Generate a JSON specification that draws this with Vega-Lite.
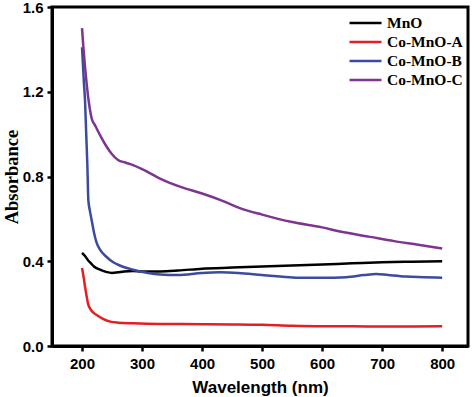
{
  "$schema": "https://vega.github.io/schema/vega-lite/v6.json",
  "width": 416,
  "height": 339,
  "autosize": "none",
  "padding": {"left": 52, "top": 7, "right": 6, "bottom": 51},
  "background": "white",
  "config": {
    "view": {"stroke": "black", "strokeWidth": 3},
    "axis": {"grid": false}
  },
  "data": {"values": [
    {"s":"MnO","w":200,"a":0.44},{"s":"MnO","w":205,"a":0.425},{"s":"MnO","w":210,"a":0.405},{"s":"MnO","w":215,"a":0.39},{"s":"MnO","w":220,"a":0.375},{"s":"MnO","w":230,"a":0.36},{"s":"MnO","w":240,"a":0.35},{"s":"MnO","w":250,"a":0.345},{"s":"MnO","w":260,"a":0.348},{"s":"MnO","w":270,"a":0.352},{"s":"MnO","w":285,"a":0.354},{"s":"MnO","w":300,"a":0.352},{"s":"MnO","w":330,"a":0.352},{"s":"MnO","w":360,"a":0.356},{"s":"MnO","w":400,"a":0.365},{"s":"MnO","w":450,"a":0.37},{"s":"MnO","w":500,"a":0.375},{"s":"MnO","w":550,"a":0.38},{"s":"MnO","w":600,"a":0.385},{"s":"MnO","w":650,"a":0.39},{"s":"MnO","w":700,"a":0.395},{"s":"MnO","w":750,"a":0.398},{"s":"MnO","w":800,"a":0.40},
    {"s":"Co-MnO-A","w":200,"a":0.368},{"s":"Co-MnO-A","w":203,"a":0.32},{"s":"Co-MnO-A","w":205,"a":0.28},{"s":"Co-MnO-A","w":208,"a":0.23},{"s":"Co-MnO-A","w":210,"a":0.2},{"s":"Co-MnO-A","w":215,"a":0.17},{"s":"Co-MnO-A","w":220,"a":0.155},{"s":"Co-MnO-A","w":225,"a":0.145},{"s":"Co-MnO-A","w":235,"a":0.128},{"s":"Co-MnO-A","w":247,"a":0.115},{"s":"Co-MnO-A","w":260,"a":0.11},{"s":"Co-MnO-A","w":285,"a":0.107},{"s":"Co-MnO-A","w":330,"a":0.104},{"s":"Co-MnO-A","w":400,"a":0.103},{"s":"Co-MnO-A","w":450,"a":0.102},{"s":"Co-MnO-A","w":500,"a":0.1},{"s":"Co-MnO-A","w":550,"a":0.095},{"s":"Co-MnO-A","w":600,"a":0.093},{"s":"Co-MnO-A","w":650,"a":0.093},{"s":"Co-MnO-A","w":700,"a":0.092},{"s":"Co-MnO-A","w":750,"a":0.092},{"s":"Co-MnO-A","w":800,"a":0.093},
    {"s":"Co-MnO-B","w":200,"a":1.41},{"s":"Co-MnO-B","w":203,"a":1.25},{"s":"Co-MnO-B","w":205,"a":1.16},{"s":"Co-MnO-B","w":207,"a":1.0},{"s":"Co-MnO-B","w":209,"a":0.845},{"s":"Co-MnO-B","w":210.5,"a":0.69},{"s":"Co-MnO-B","w":213,"a":0.64},{"s":"Co-MnO-B","w":216,"a":0.595},{"s":"Co-MnO-B","w":220,"a":0.535},{"s":"Co-MnO-B","w":224,"a":0.49},{"s":"Co-MnO-B","w":230,"a":0.455},{"s":"Co-MnO-B","w":241,"a":0.42},{"s":"Co-MnO-B","w":252,"a":0.395},{"s":"Co-MnO-B","w":263,"a":0.38},{"s":"Co-MnO-B","w":285,"a":0.36},{"s":"Co-MnO-B","w":310,"a":0.345},{"s":"Co-MnO-B","w":330,"a":0.338},{"s":"Co-MnO-B","w":360,"a":0.335},{"s":"Co-MnO-B","w":400,"a":0.345},{"s":"Co-MnO-B","w":430,"a":0.348},{"s":"Co-MnO-B","w":460,"a":0.345},{"s":"Co-MnO-B","w":500,"a":0.335},{"s":"Co-MnO-B","w":530,"a":0.328},{"s":"Co-MnO-B","w":560,"a":0.322},{"s":"Co-MnO-B","w":600,"a":0.322},{"s":"Co-MnO-B","w":640,"a":0.325},{"s":"Co-MnO-B","w":670,"a":0.335},{"s":"Co-MnO-B","w":690,"a":0.34},{"s":"Co-MnO-B","w":710,"a":0.335},{"s":"Co-MnO-B","w":740,"a":0.328},{"s":"Co-MnO-B","w":770,"a":0.325},{"s":"Co-MnO-B","w":800,"a":0.322},
    {"s":"Co-MnO-C","w":200,"a":1.50},{"s":"Co-MnO-C","w":202,"a":1.42},{"s":"Co-MnO-C","w":205,"a":1.317},{"s":"Co-MnO-C","w":208,"a":1.23},{"s":"Co-MnO-C","w":210,"a":1.18},{"s":"Co-MnO-C","w":213,"a":1.12},{"s":"Co-MnO-C","w":216,"a":1.075},{"s":"Co-MnO-C","w":222,"a":1.04},{"s":"Co-MnO-C","w":230,"a":0.995},{"s":"Co-MnO-C","w":240,"a":0.945},{"s":"Co-MnO-C","w":250,"a":0.905},{"s":"Co-MnO-C","w":260,"a":0.878},{"s":"Co-MnO-C","w":272,"a":0.866},{"s":"Co-MnO-C","w":285,"a":0.854},{"s":"Co-MnO-C","w":300,"a":0.835},{"s":"Co-MnO-C","w":313,"a":0.816},{"s":"Co-MnO-C","w":330,"a":0.79},{"s":"Co-MnO-C","w":363,"a":0.752},{"s":"Co-MnO-C","w":400,"a":0.72},{"s":"Co-MnO-C","w":430,"a":0.69},{"s":"Co-MnO-C","w":463,"a":0.651},{"s":"Co-MnO-C","w":500,"a":0.62},{"s":"Co-MnO-C","w":550,"a":0.585},{"s":"Co-MnO-C","w":600,"a":0.56},{"s":"Co-MnO-C","w":630,"a":0.54},{"s":"Co-MnO-C","w":680,"a":0.515},{"s":"Co-MnO-C","w":720,"a":0.495},{"s":"Co-MnO-C","w":760,"a":0.478},{"s":"Co-MnO-C","w":800,"a":0.46}
  ]},
  "mark": {"type": "line", "strokeWidth": 2.5, "clip": true, "interpolate": "monotone"},
  "encoding": {
    "x": {
      "field": "w", "type": "quantitative",
      "scale": {"domain": [150, 843], "nice": false, "zero": false},
      "axis": {
        "title": "Wavelength (nm)", "values": [200,300,400,500,600,700,800],
        "domainWidth": 3, "domainColor": "black", "tickColor": "black", "tickWidth": 2.5, "tickSize": 5,
        "labelFont": "Liberation Sans", "labelFontWeight": "bold", "labelFontSize": 15, "labelColor": "black", "labelPadding": 5,
        "titleFont": "Liberation Sans", "titleFontWeight": "bold", "titleFontSize": 17, "titleColor": "black", "titlePadding": 8,
        "tickMinorStep": 50, "minorTickSize": 3, "minorTickWidth": 2.5, "minorTickColor": "black"
      }
    },
    "y": {
      "field": "a", "type": "quantitative",
      "scale": {"domain": [0, 1.6], "nice": false},
      "axis": {
        "title": "Absorbance", "values": [0, 0.4, 0.8, 1.2, 1.6], "format": ".1f",
        "domainWidth": 3, "domainColor": "black", "tickColor": "black", "tickWidth": 2.5, "tickSize": 5,
        "labelFont": "Liberation Sans", "labelFontWeight": "bold", "labelFontSize": 15, "labelColor": "black", "labelPadding": 4,
        "titleFont": "Liberation Serif", "titleFontWeight": "bold", "titleFontSize": 18.5, "titleColor": "black", "titlePadding": 1,
        "tickMinorStep": 0.2, "minorTickSize": 3, "minorTickWidth": 2.5, "minorTickColor": "black"
      }
    },
    "color": {
      "field": "s", "type": "nominal",
      "scale": {"domain": ["MnO","Co-MnO-A","Co-MnO-B","Co-MnO-C"], "range": ["#000000","#e31e24","#3a4ba0","#7d3590"]},
      "legend": {
        "title": null, "orient": "none", "legendX": 296, "legendY": 8,
        "symbolType": "stroke", "symbolSize": 1024, "symbolStrokeWidth": 2.5,
        "clipHeight": 16,
        "labelFont": "Liberation Serif", "labelFontWeight": "bold", "labelFontSize": 15.5, "labelColor": "black",
        "labelOffset": 4, "rowPadding": 2
      }
    }
  }
}
